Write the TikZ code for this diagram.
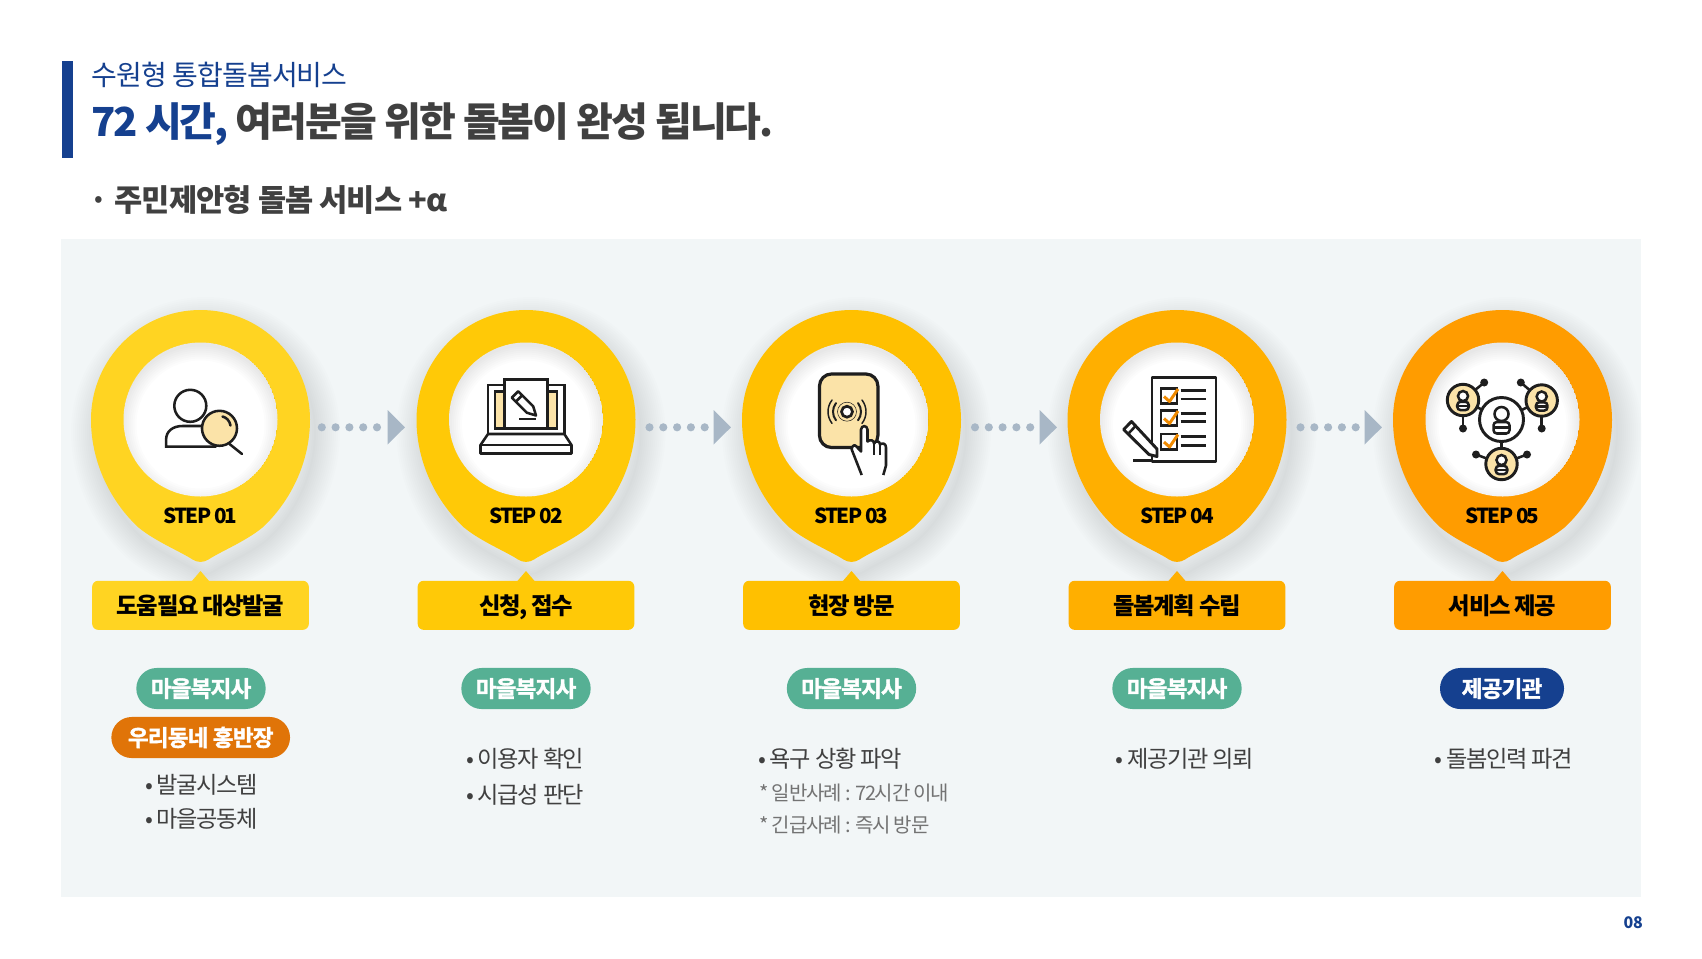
\documentclass[tikz,border=0pt]{standalone}
\usepackage{fontspec}
\usetikzlibrary{arrows.meta}
\setmainfont{Noto Sans CJK KR}
\newfontfamily\kra[LetterSpace=-3]{Noto Sans CJK KR}
\newfontfamily\krb[LetterSpace=-3]{Noto Sans CJK KR}
\newfontfamily\krt[LetterSpace=-5]{Noto Sans CJK KR}
\newfontfamily\krc[LetterSpace=-6]{Noto Sans CJK KR}
\newfontfamily\krs[LetterSpace=-9]{Noto Sans CJK KR}
\newfontfamily\krh[FakeBold=1.6,LetterSpace=-4]{Noto Sans CJK KR Bold}
\definecolor{panelc}{HTML}{F2F6F7}
\definecolor{barc}{HTML}{15408F}
\definecolor{darkt}{HTML}{404040}
\definecolor{notec}{HTML}{737373}
\definecolor{arrowc}{HTML}{A8B7C6}
\definecolor{palec}{HTML}{FBE3A8}
\definecolor{linec}{HTML}{1E1E1E}
\definecolor{pinA}{HTML}{FFD422}
\definecolor{pinB}{HTML}{FFC907}
\definecolor{pinC}{HTML}{FFC000}
\definecolor{pinD}{HTML}{FFAF00}
\definecolor{pinE}{HTML}{FF9C00}
\definecolor{greenb}{HTML}{56B094}
\definecolor{orangeb}{HTML}{E07408}
\definecolor{checkc}{HTML}{F08A00}
\newcommand\pinpath{(-109.5,0) arc[start angle=180,end angle=360,radius=109.5]
 .. controls (109.5,45) and (88,84) .. (62,108)
 .. controls (45,122) and (20,132) .. (8,140)
 .. controls (3,143.2) and (-3,143.2) .. (-8,140)
 .. controls (-20,132) and (-45,122) .. (-62,108)
 .. controls (-88,84) and (-109.5,45) .. (-109.5,0) -- cycle}
\newcommand\personmark[3]{%
 \begin{scope}[shift={(#1,#2)},scale=#3]
  \draw[ic,fill=white] (0,-5.5) circle[radius=7];
  \draw[ic,fill=white,rounded corners=2.5pt] (-8,2.5) rectangle (8,14);
  \draw[ic] (-8,8) -- (8,8);
 \end{scope}}
\newcommand\iconone{%
 \draw[ic,fill=white] (-10.2,-13.7) circle[radius=16];
 \draw[ic] (15.8,27.2) -- (-34.4,27.2) -- (-34.4,20) .. controls (-34.4,12) and (-28,6.5) .. (-18,6.5) -- (4,6.5);
 \draw[ic,line cap=round] (29,24.5) -- (41.5,34.5);
 \draw[ic,fill=palec] (19,8.8) circle[radius=17.5];
 \draw[ic,line cap=round] (22,-3) .. controls (26,-2) and (29,1) .. (30,6);
}
\newcommand\icontwo{%
 \draw[ic,fill=white] (-38,-34.5) rectangle (38.3,14.5);
 \draw[ic,fill=palec] (-31,-28) rectangle (31,9);
 \draw[ic,fill=white] (-21.6,-40) rectangle (21.5,9);
 \draw[ic,fill=white,line join=round] (-38,14.5) -- (38.3,14.5) -- (45.5,25.5) -- (45.5,34) -- (-45.5,34) -- (-45.5,25.5) -- cycle;
 \draw[ic] (-45.5,25.5) -- (45.5,25.5);
 \draw[ic,line join=round] (-7.8,-28.2) -- (7.2,-13.2) -- (10,-4) -- (0.8,-6.8) -- (-14.2,-21.8) -- cycle;
 \draw[ic] (-3.8,-24.2) -- (-10.2,-17.8);
 \draw[ic] (-7,-0.5) -- (9.7,-0.5);
}
\newcommand\iconthree{%
 \draw[ic,line width=2.4pt,fill=palec,rounded corners=9pt] (-32,-45.5) rectangle (26.4,28);
 \draw[linec,line width=2pt,fill=white] (-4.5,-7.8) circle[radius=5.5];
 \draw[linec,line width=.4pt] (-4.5,-7.8) circle[radius=9.5];
 \foreach \r/\lw in {14/1.5,19/1.1}{
  \draw[linec,line width=\lw pt,line cap=round] ([shift={(-4.5,-7.8)}]-38:\r) arc[start angle=-38,end angle=38,radius=\r];
  \draw[linec,line width=\lw pt,line cap=round] ([shift={(-4.5,-7.8)}]142:\r) arc[start angle=142,end angle=218,radius=\r];
 }
 \filldraw[ic,fill=white,line join=round] (10.2,55.5) -- (0.2,30) .. controls (0.2,27) and (2.5,24.5) .. (4.5,26.5) -- (9.5,32) -- (9.5,10) .. controls (10,5.5) and (15.5,5.5) .. (16,10) -- (16,22) .. controls (18,20) and (22.5,20) .. (22.5,24) .. controls (24,21) and (28.5,21) .. (28.5,25) .. controls (31,23) and (34.5,24) .. (34.5,28) -- (34.5,46) -- (31.8,55.5);
 \draw[ic] (22.5,24) -- (22.5,35);
 \draw[ic] (28.5,25) -- (28.5,35);
}
\newcommand\iconfour{%
 \draw[ic,line width=2.2pt,fill=white,line join=round] (-25,-42) rectangle (39,42.2);
 \foreach \a/\b in {-31/-16,-9/6,14.5/30}{
  \draw[ic,line width=2pt] (-16,\a) rectangle (0,\b);
  \draw[checkc,line width=2.2pt,line join=round] (-13,\a+8) -- (-7.5,\a+13) -- (1,\a+0.5);
 }
 \foreach \y in {-29,-20.5,-6,2,17,26}{
  \draw[ic,line width=2pt] (3.6,\y) -- (29.3,\y);
 }
 \draw[ic,line width=2.2pt,fill=white,line join=round] (-53.4,10) -- (-45.5,2) -- (-20,29.5) -- (-20,37) -- (-28,35) -- cycle;
 \draw[ic] (-48,13.5) -- (-41,6);
 \draw[ic,line width=2.2pt] (-44,41) -- (-25,41);
}
\newcommand\iconfive{%
 \draw[ic] (-39.5,-19.5) -- (-18.3,-37);
 \draw[ic] (-39.5,-19.5) -- (-39.5,9);
 \draw[ic] (39.2,-19) -- (18.3,-37);
 \draw[ic] (39.2,-19) -- (39.2,9);
 \draw[ic] (-39.5,-19.5) -- (-1,0);
 \draw[ic] (39.2,-19) -- (-1,0);
 \draw[ic] (-1,0) -- (-1,44.5);
 \draw[ic] (-26.5,35) -- (-1,44.5) -- (24.5,35);
 \foreach \x/\y in {-18.3/-37,-39.5/9,18.3/-37,39.2/9,-26.5/35,24.5/35}{
  \fill[linec] (\x,\y) circle[radius=4];
 }
 \draw[ic,line width=2.2pt,fill=white] (-1,0) circle[radius=22];
 \foreach \x/\y in {-39.5/-19.5,39.2/-19,-1/44.5}{
  \draw[ic,line width=2.2pt,fill=palec] (\x,\y) circle[radius=15.7];
  \personmark{\x}{\y}{0.72}
 }
 \personmark{-1}{0}{1}
}
\tikzset{
 ic/.style={draw=linec,line width=1.9pt},
 panelbox/.style={fill=panelc,draw=none},
 ttl/.style={anchor=base west,inner sep=0pt},
 labelbox/.style={rectangle,rounded corners=4.5pt,minimum width=162.5pt,minimum height=36.8pt,inner sep=0pt,text=black,text height=15pt,text depth=1.4pt,font=\krc\fontsize{17.5pt}{20pt}\selectfont\bfseries},
 pillbox/.style={rectangle,rounded corners=15.3pt,minimum height=30.8pt,inner sep=0pt,text=white,font=\krh\fontsize{17pt}{20pt}\selectfont},
 stepl/.style={inner sep=0pt,anchor=base,text=black,font=\krs\fontsize{15.5pt}{18pt}\selectfont\bfseries},
 listl/.style={anchor=base west,inner sep=0pt,text=darkt,font=\krc\fontsize{17.4pt}{20pt}\selectfont},
 notel/.style={anchor=base west,inner sep=0pt,text=notec,font=\krc\fontsize{15pt}{18pt}\selectfont},
 dotflow/.style={arrowc,line width=6.1pt,line cap=round,dash pattern=on 0pt off 10.35pt,-{Triangle[length=13pt,width=25pt,fill=arrowc]}},
 pinhub/.style={circle,inner sep=0pt,minimum size=164.25pt,draw=none},
}
\begin{document}
\begin{tikzpicture}[x=0.75pt,y=-0.75pt]
\useasboundingbox (0,0) rectangle (1702,958);
\fill[white] (0,0) rectangle (1702,958);
\fill[panelbox] (61,239) rectangle (1641,897);
\fill[barc] (61.5,61) rectangle (73,158);
\node[ttl,text=barc,font=\kra\fontsize{21pt}{24pt}\selectfont] (tsub) at (91,85) {수원형 통합돌봄서비스};
\node[ttl,font=\krt\fontsize{30pt}{34pt}\selectfont\bfseries] (tmain) at (91,136) {\textcolor{barc}{72 시간,} \textcolor{darkt}{여러분을 위한 돌봄이 완성 됩니다.}};
\node[ttl,text=darkt,font=\krb\fontsize{23pt}{28pt}\selectfont\bfseries] (tplus) at (89.5,211) {· 주민제안형 돌봄 서비스 +α};
\node[anchor=base east,inner sep=0pt,text=barc,font=\krb\fontsize{12pt}{14pt}\selectfont\bfseries] (pageno) at (1643,928) {08};
% pins
\foreach \i/\cx/\col/\stepn/\lab/\icon in {
 1/200.5/pinA/01/도움필요 대상발굴/\iconone,
 2/526/pinB/02/{신청, 접수}/\icontwo,
 3/851.5/pinC/03/현장 방문/\iconthree,
 4/1177/pinD/04/돌봄계획 수립/\iconfour,
 5/1502.5/pinE/05/서비스 제공/\iconfive}{
 \begin{scope}[shift={(\cx,419.5)}]
  \begin{scope}[shift={(5,12)}]
   \foreach \w in {50,46,...,2}{
    \draw[black,line width=\w*0.75pt,line join=round,opacity=.0085] \pinpath;
   }
  \end{scope}
  \fill[\col] \pinpath;
  \node[pinhub] (pin\i) at (0,0) {};
  \begin{scope}
   \clip (0,0) circle[radius=77];
   \fill[white] (0,0) circle[radius=77];
   \foreach \w in {32,28,...,4}{
    \draw[black,line width=\w*0.75pt,opacity=.011] (0,5) circle[radius=80];
   }
  \end{scope}
  \icon
  \node[stepl] (step\i) at (0,103.5) {STEP \stepn};
  \fill[\col] (-9,162) -- (0,151.5) -- (9,162) -- cycle;
  \node[labelbox,fill=\col] (lab\i) at (0,185.8) {\lab};
 \end{scope}
}
% connectors
\foreach \i/\j/\sx/\ex in {1/2/321.8/405,2/3/649.5/731,3/4/975/1057,4/5/1300.5/1382}{
 \coordinate (from\i) at (\sx,427.3);
 \coordinate (to\j) at (\ex,427.3);
 \draw[dotflow] (from\i) -- (to\j);
}
% pills
\node[pillbox,fill=greenb,minimum width=97pt] (role1) at (201,688.5) {마을복지사};
\node[pillbox,fill=orangeb,minimum width=134pt] (role1b) at (200.7,737.5) {우리동네 홍반장};
\node[pillbox,fill=greenb,minimum width=97pt] (role2) at (526,688.5) {마을복지사};
\node[pillbox,fill=greenb,minimum width=97pt] (role3) at (851.5,688.5) {마을복지사};
\node[pillbox,fill=greenb,minimum width=97pt] (role4) at (1177,688.5) {마을복지사};
\node[pillbox,fill=barc,minimum width=93pt] (role5) at (1502,688.5) {제공기관};
% lists
\node[listl] (l1a) at (145,793) {• 발굴시스템};
\node[listl] (l1b) at (145,827) {• 마을공동체};
\node[listl] (l2a) at (466,767) {• 이용자 확인};
\node[listl] (l2b) at (466,803) {• 시급성 판단};
\node[listl] (l3a) at (758,767) {• 욕구 상황 파악};
\node[notel] (l3b) at (759,800) {* 일반사례 : 72시간 이내};
\node[notel] (l3c) at (759,832.5) {* 긴급사례 : 즉시 방문};
\node[listl] (l4a) at (1115.5,767) {• 제공기관 의뢰};
\node[listl] (l5a) at (1434.5,767) {• 돌봄인력 파견};
\end{tikzpicture}
\end{document}
